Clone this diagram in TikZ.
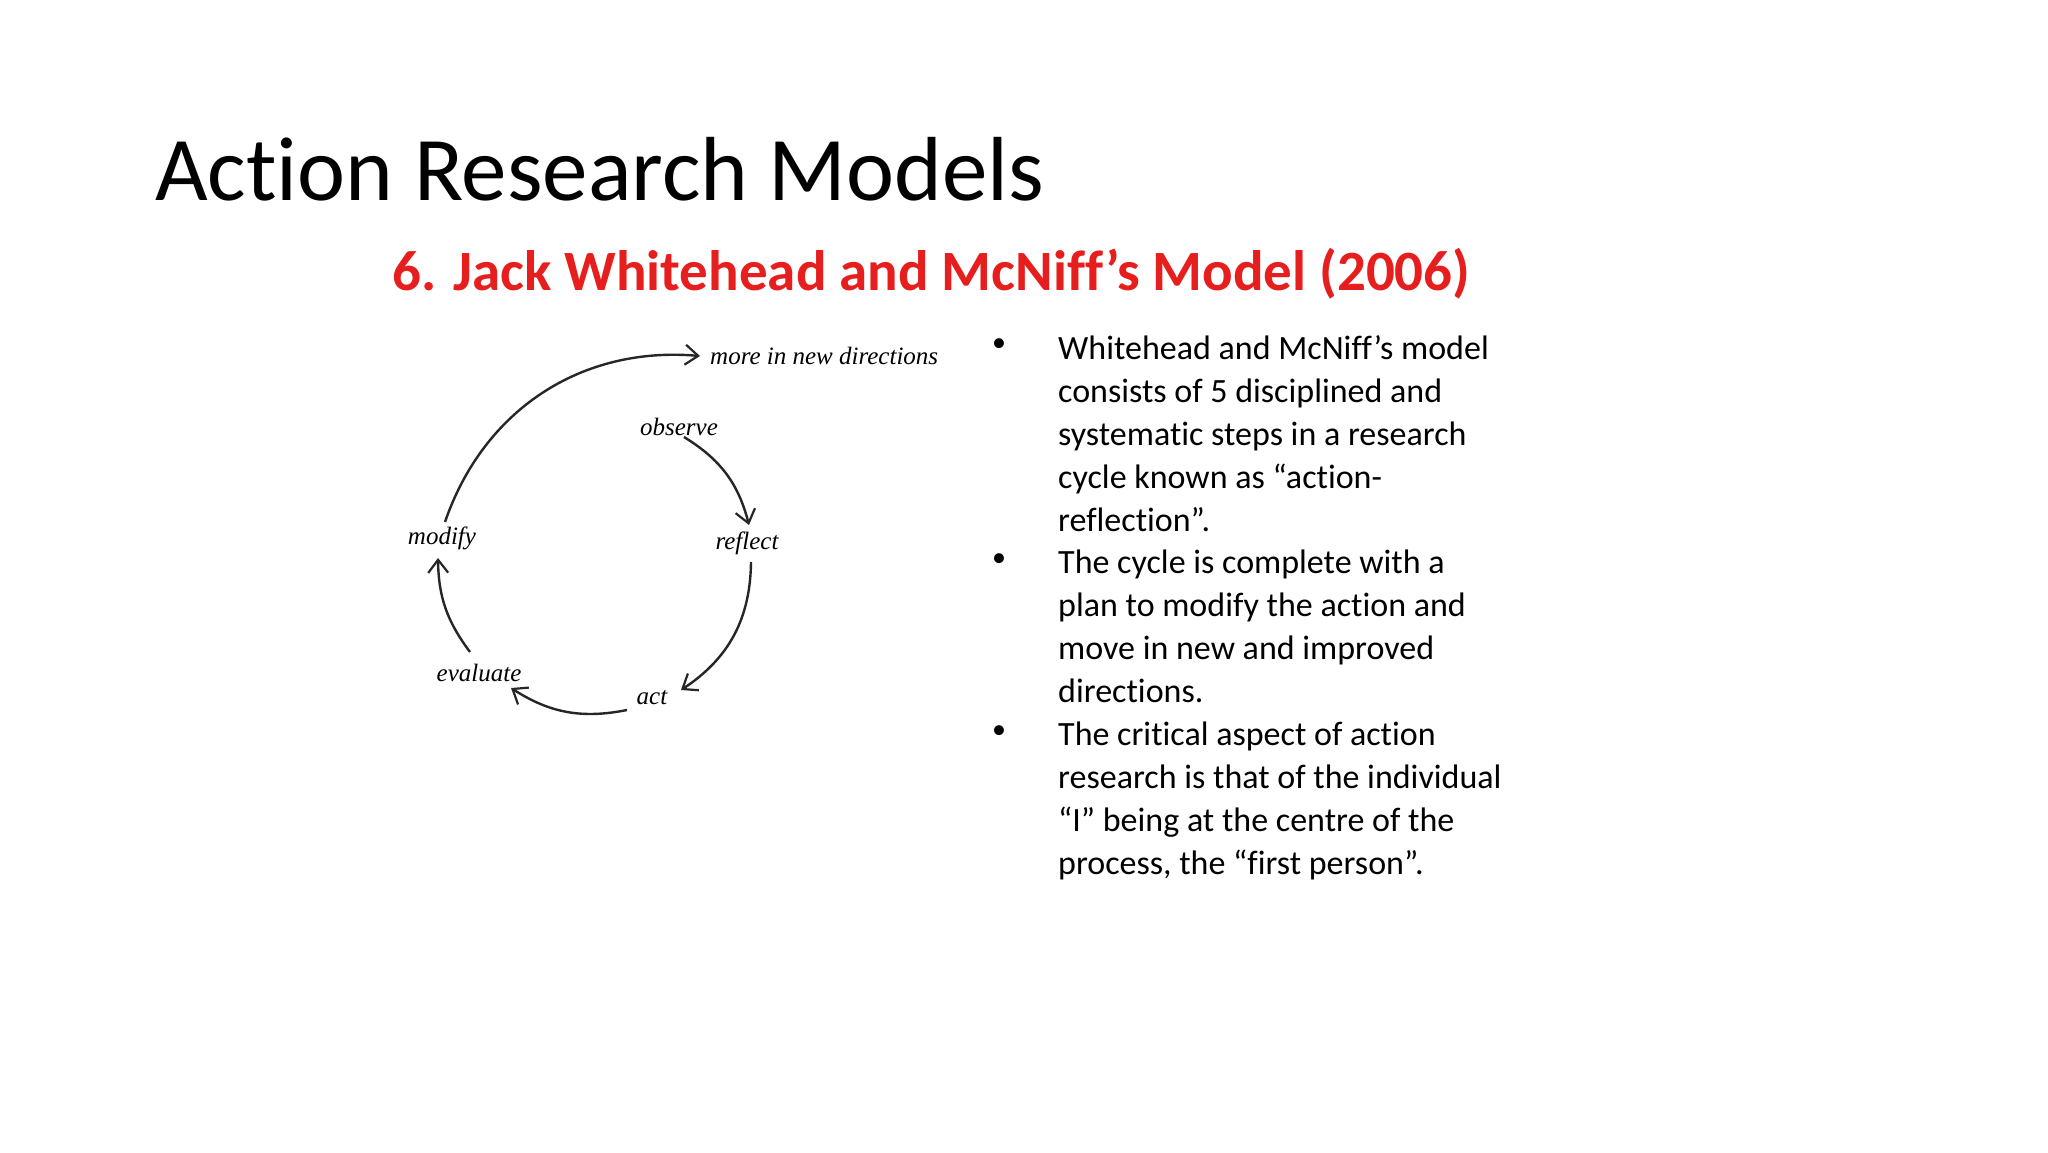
\documentclass[tikz,border=0pt]{standalone}
\usepackage{fontspec}
\setmainfont[Ligatures=CommonOff]{Carlito}
\newfontfamily\diagfont{Liberation Serif}
\usetikzlibrary{arrows.meta}
\begin{document}
\begin{tikzpicture}[x=1pt,y=-1pt,
  lab/.style={font=\diagfont\itshape\fontsize{25}{27}\selectfont,inner sep=2pt},
  cyc/.style={line width=2.4pt,color=black!85,-{Straight Barb[length=13pt,width=20pt,line width=2.2pt]}},
  bul/.style={anchor=north west,align=left,font=\fontsize{34}{43}\selectfont,inner sep=0pt}]
\fill[white] (0,0) rectangle (2048,1152);
\useasboundingbox (0,0) rectangle (2048,1152);
\node[anchor=base west,font=\fontsize{91}{93}\selectfont,inner sep=0pt] (title) at (155,200) {Action Research Models};
\node[anchor=base west,font=\bfseries\fontsize{57}{59}\selectfont,text={rgb,255:red,230;green,30;blue,30},inner sep=0pt] (sub) at (392,290) {6. Jack Whitehead and McNiff’s Model (2006)};
% diagram labels
\node[lab] (obs) at (679,427) {observe};
\node[lab] (ref) at (747,543) {reflect};
\node[lab] (act) at (652,698) {act};
\node[lab] (eva) at (479,673) {evaluate};
\node[lab] (mod) at (442,538) {modify};
\node[lab,anchor=west] (more) at (708,356) {more in new directions};
\coordinate (a1) at (684,437); \coordinate (b1) at (749,525);
\coordinate (a2) at (751,562); \coordinate (b2) at (681,690);
\coordinate (a3) at (627,710); \coordinate (b3) at (511,688);
\coordinate (a4) at (470,652); \coordinate (b4) at (438,558);
\coordinate (a5) at (445,522); \coordinate (b5) at (700,356);
\draw[cyc] (a1) to[bend left=22] (b1);
\draw[cyc] (a2) to[bend left=28] (b2);
\draw[cyc] (a3) to[bend left=22] (b3);
\draw[cyc] (a4) to[bend left=18] (b4);
\draw[cyc] (a5) to[bend left=38] (b5);
% bullets
\foreach \y/\t [count=\i] in {335/{Whitehead and McNiff’s model\\consists of 5 disciplined and\\systematic steps in a research\\cycle known as “action-\\reflection”.},
  550/{The cycle is complete with a\\plan to modify the action and\\move in new and improved\\directions.},
  722/{The critical aspect of action\\research is that of the individual\\“I” being at the centre of the\\process, the “first person”.}}{
  \node[bul] (t\i) at (1058,\y) {\t};
  \node[anchor=north,font=\fontsize{28}{43}\selectfont,inner sep=0pt] (d\i) at (999,\y+3) {•};
}
\end{tikzpicture}
\end{document}
